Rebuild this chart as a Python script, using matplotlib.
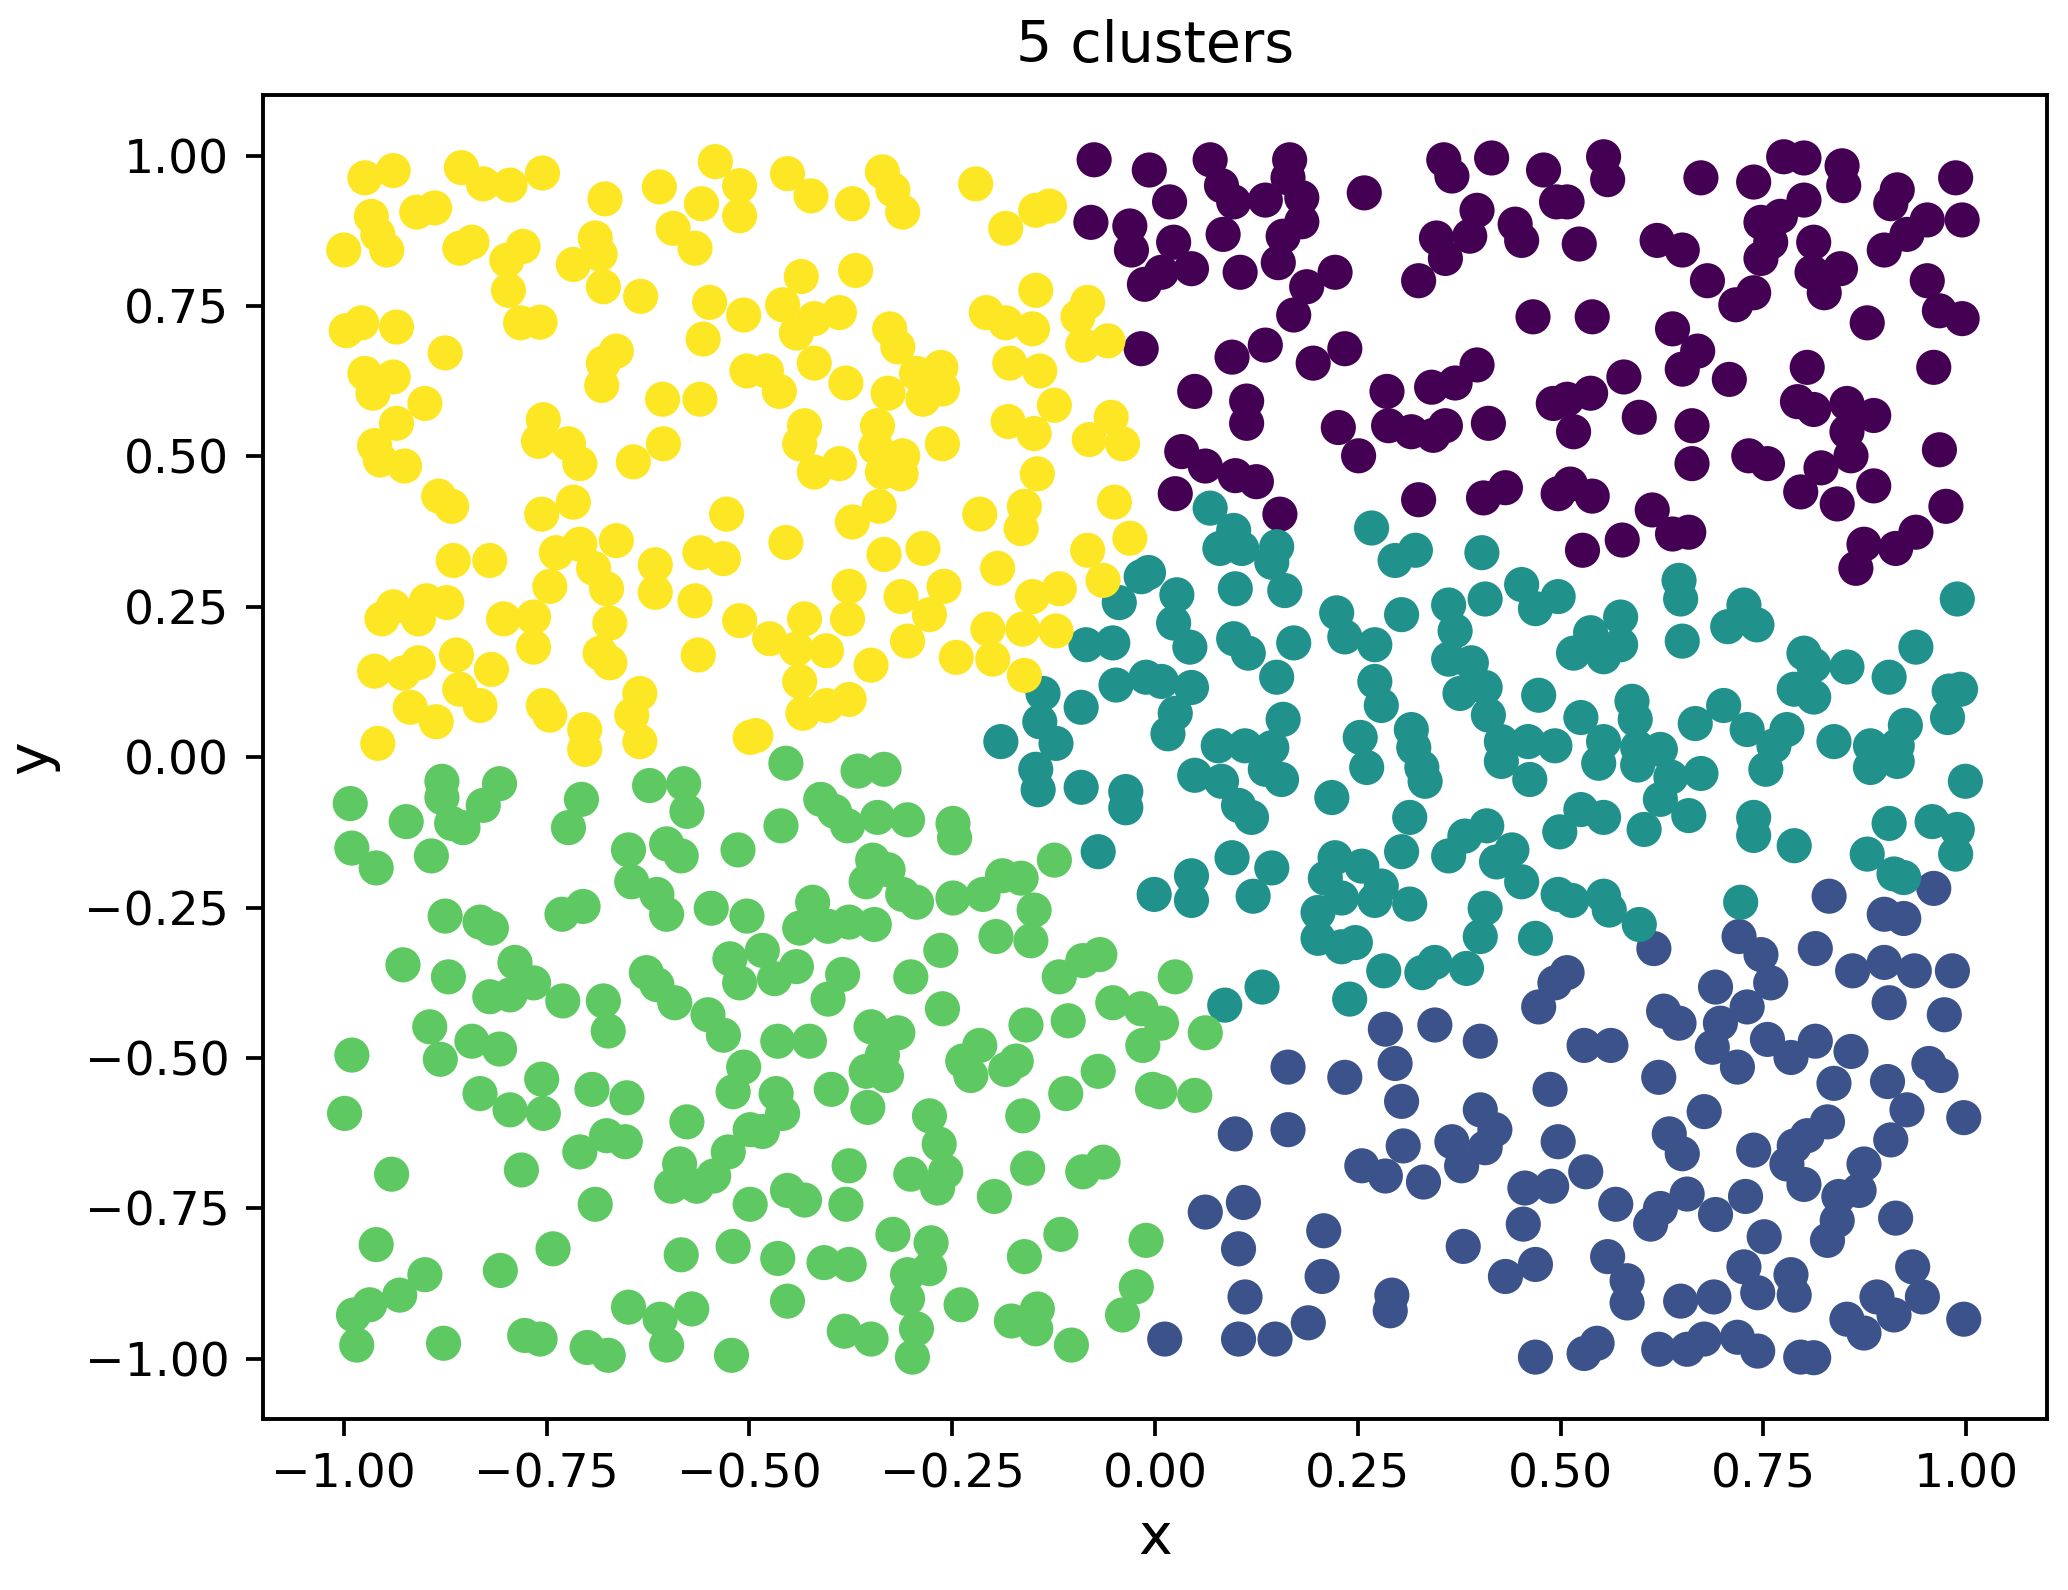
import numpy as np
import matplotlib
matplotlib.use("Agg")
import matplotlib.pyplot as plt

# --------------------------------------------------------------------------------
# DATA (cluster by cluster)

# cluster 4 - yellow, upper left
yellow_x = [-0.974, -0.939, -0.855, -0.828, -0.795, -0.755, -0.678, -0.611, -0.542, -0.512,
            -0.559, -0.512, -0.594, -0.567, -0.966, -0.910, -0.888, -1.000, -0.947, -0.958,
            -0.857, -0.842, -0.799, -0.779, -0.797, -0.782, -0.758, -0.717, -0.690, -0.684,
            -0.680, -0.634, -0.549, -0.557, -0.507, -0.503, -0.997, -0.978, -0.935, -0.875,
            -0.974, -0.939, -0.964, -0.900, -0.935, -0.962, -0.955, -0.925, -0.883, -0.867,
            -0.664, -0.682, -0.680, -0.607, -0.561, -0.754, -0.760, -0.723, -0.709, -0.643,
            -0.606, -0.756, -0.717, -0.528, -0.865, -0.820, -0.738, -0.709, -0.664, -0.692,
            -0.746, -0.676, -0.616, -0.616, -0.561, -0.532, -0.567, -0.512, -0.953, -0.939,
            -0.898, -0.873, -0.908, -0.803, -0.766, -0.766, -0.672, -0.684, -0.672, -0.563,
            -0.962, -0.927, -0.908, -0.861, -0.857, -0.832, -0.818, -0.918, -0.886, -0.754,
            -0.746, -0.703, -0.703, -0.635, -0.645, -0.635, -0.958, -0.499,
            -0.453, -0.424, -0.373, -0.336, -0.323, -0.311, -0.221, -0.184, -0.147, -0.130,
            -0.436, -0.369, -0.459, -0.442, -0.420, -0.389, -0.327, -0.317, -0.479, -0.463,
            -0.420, -0.381, -0.329, -0.294, -0.286, -0.264, -0.262, -0.432, -0.438, -0.420,
            -0.389, -0.342, -0.344, -0.336, -0.311, -0.313, -0.262, -0.208, -0.184, -0.147,
            -0.151, -0.179, -0.142, -0.095, -0.083, -0.089, -0.058, -0.124, -0.181, -0.149,
            -0.054, -0.081, -0.040, -0.145, -0.161, -0.165, -0.216, -0.050, -0.031, -0.083,
            -0.064, -0.373, -0.340, -0.455, -0.334, -0.286, -0.194, -0.377, -0.379, -0.432,
            -0.313, -0.260, -0.278, -0.305, -0.350, -0.475, -0.442, -0.405, -0.438, -0.434,
            -0.405, -0.377, -0.492, -0.245, -0.206, -0.200, -0.163, -0.151, -0.118, -0.122,
            -0.161]
yellow_y = [0.963, 0.975, 0.980, 0.953, 0.951, 0.971, 0.928, 0.948, 0.990, 0.950,
            0.920, 0.900, 0.879, 0.846, 0.899, 0.906, 0.913, 0.843, 0.843, 0.869,
            0.846, 0.856, 0.826, 0.849, 0.776, 0.722, 0.723, 0.819, 0.863, 0.836,
            0.782, 0.766, 0.756, 0.695, 0.735, 0.642, 0.709, 0.722, 0.715, 0.672,
            0.638, 0.632, 0.605, 0.588, 0.555, 0.518, 0.494, 0.484, 0.434, 0.417,
            0.675, 0.618, 0.655, 0.595, 0.595, 0.561, 0.525, 0.521, 0.488, 0.491,
            0.521, 0.404, 0.424, 0.404, 0.327, 0.327, 0.340, 0.354, 0.360, 0.314,
            0.284, 0.280, 0.320, 0.274, 0.340, 0.330, 0.260, 0.227, 0.230, 0.250,
            0.260, 0.257, 0.230, 0.230, 0.233, 0.183, 0.223, 0.173, 0.157, 0.170,
            0.143, 0.140, 0.157, 0.170, 0.113, 0.086, 0.146, 0.083, 0.059, 0.086,
            0.070, 0.046, 0.013, 0.106, 0.070, 0.026, 0.023, 0.033,
            0.970, 0.933, 0.920, 0.973, 0.943, 0.906, 0.953, 0.879, 0.909, 0.916,
            0.799, 0.809, 0.752, 0.705, 0.729, 0.739, 0.712, 0.682, 0.642, 0.608,
            0.655, 0.622, 0.605, 0.638, 0.595, 0.648, 0.612, 0.551, 0.521, 0.474,
            0.488, 0.551, 0.515, 0.474, 0.501, 0.471, 0.521, 0.739, 0.722, 0.776,
            0.712, 0.655, 0.642, 0.732, 0.756, 0.685, 0.692, 0.585, 0.558, 0.538,
            0.565, 0.528, 0.521, 0.471, 0.417, 0.380, 0.404, 0.424, 0.364, 0.344,
            0.294, 0.391, 0.417, 0.357, 0.337, 0.347, 0.314, 0.284, 0.230, 0.230,
            0.267, 0.284, 0.237, 0.193, 0.153, 0.197, 0.180, 0.177, 0.126, 0.073,
            0.086, 0.096, 0.036, 0.166, 0.213, 0.163, 0.213, 0.267, 0.280, 0.210,
            0.136]

# cluster 0 - purple, upper right
purple_x = [-0.075, -0.007, -0.079, -0.031, -0.029, -0.013, -0.017,
            0.018, 0.068, 0.082, 0.097, 0.084, 0.023, 0.008, 0.045, 0.105, 0.166,
            0.164, 0.136, 0.181, 0.181, 0.158, 0.152, 0.187, 0.171, 0.222, 0.258,
            0.356, 0.366, 0.415, 0.479, 0.495, 0.397, 0.388, 0.444, 0.452, 0.347,
            0.358, 0.325, 0.466, 0.095, 0.136, 0.195, 0.234, 0.049, 0.113, 0.113,
            0.226, 0.251, 0.286, 0.288, 0.316, 0.341, 0.370, 0.397, 0.343, 0.358,
            0.411, 0.491, 0.033, 0.062, 0.099, 0.125, 0.025, 0.154, 0.325, 0.405,
            0.432, 0.497,
            0.553, 0.558, 0.508, 0.523, 0.673, 0.738, 0.775, 0.800, 0.847, 0.849,
            0.800, 0.771, 0.747, 0.759, 0.747, 0.915, 0.907, 0.987, 0.995, 0.952,
            0.927, 0.899, 0.619, 0.650, 0.681, 0.716, 0.738, 0.812, 0.810, 0.845,
            0.825, 0.539, 0.638, 0.669, 0.650, 0.708, 0.578, 0.878, 0.952, 0.967,
            0.995, 0.960, 0.804, 0.792, 0.812, 0.853, 0.886, 0.853, 0.858, 0.821,
            0.796, 0.841, 0.886, 0.967, 0.975, 0.938, 0.913, 0.874, 0.864, 0.537,
            0.508, 0.516, 0.597, 0.662, 0.662, 0.732, 0.755, 0.512, 0.539, 0.613,
            0.576, 0.527, 0.638, 0.658]
purple_y = [0.993, 0.976, 0.889, 0.883, 0.843, 0.786, 0.679,
            0.923, 0.993, 0.950, 0.923, 0.869, 0.856, 0.806, 0.812, 0.806, 0.993,
            0.963, 0.926, 0.930, 0.890, 0.866, 0.822, 0.782, 0.735, 0.806, 0.938,
            0.993, 0.966, 0.996, 0.976, 0.923, 0.909, 0.866, 0.886, 0.859, 0.863,
            0.829, 0.792, 0.732, 0.665, 0.685, 0.655, 0.679, 0.608, 0.592, 0.555,
            0.548, 0.501, 0.608, 0.551, 0.541, 0.615, 0.622, 0.652, 0.535, 0.551,
            0.555, 0.588, 0.508, 0.484, 0.468, 0.458, 0.438, 0.404, 0.428, 0.431,
            0.448, 0.438,
            0.998, 0.960, 0.923, 0.853, 0.963, 0.956, 0.998, 0.996, 0.983, 0.950,
            0.926, 0.899, 0.889, 0.856, 0.829, 0.943, 0.920, 0.963, 0.893, 0.893,
            0.869, 0.843, 0.859, 0.843, 0.792, 0.752, 0.772, 0.856, 0.806, 0.812,
            0.772, 0.732, 0.712, 0.675, 0.645, 0.628, 0.632, 0.722, 0.792, 0.742,
            0.729, 0.648, 0.648, 0.591, 0.578, 0.588, 0.568, 0.541, 0.501, 0.481,
            0.441, 0.421, 0.451, 0.511, 0.417, 0.374, 0.347, 0.354, 0.314, 0.605,
            0.595, 0.541, 0.565, 0.551, 0.488, 0.501, 0.488, 0.454, 0.434, 0.411,
            0.361, 0.344, 0.371, 0.374]

# cluster 2 - teal, middle right
teal_x = [-0.017, -0.044, -0.085, -0.052, -0.048, -0.011, -0.091, -0.138, -0.142, -0.190,
          -0.122, -0.008,
          0.068, 0.097, 0.080, 0.107, 0.150, 0.144, 0.099, 0.160, 0.267, 0.296,
          0.321, 0.403, 0.027, 0.023, 0.043, 0.097, 0.115, 0.171, 0.150, 0.008,
          0.045, 0.025, 0.016, 0.158, 0.078, 0.111, 0.144, 0.224, 0.234, 0.271,
          0.304, 0.271, 0.279, 0.253, 0.316, 0.319, 0.362, 0.370, 0.362, 0.390,
          0.376, 0.407, 0.411, 0.407, 0.452, 0.469, 0.497, 0.473, 0.427, 0.460,
          0.493,
          0.646, 0.648, 0.574, 0.537, 0.516, 0.553, 0.574, 0.650, 0.726, 0.706,
          0.742, 0.989, 0.800, 0.812, 0.853, 0.905, 0.938, 0.979, 0.993, 0.977,
          0.588, 0.592, 0.525, 0.553, 0.595, 0.623, 0.666, 0.701, 0.730, 0.788,
          0.812, 0.779, 0.763, 0.837, 0.882, 0.925, 0.915,
          -0.147, -0.144, -0.091, -0.036, -0.036, -0.070, -0.001,
          0.049, 0.082, 0.136, 0.156, 0.103, 0.119, 0.218, 0.261, 0.329, 0.333,
          0.427, 0.462, 0.499, 0.314, 0.304, 0.362, 0.382, 0.409, 0.421, 0.440,
          0.452, 0.095, 0.045, 0.144, 0.121, 0.045, 0.222, 0.255, 0.210, 0.279,
          0.271, 0.314, 0.230, 0.201, 0.201, 0.230, 0.247, 0.282, 0.240, 0.407,
          0.401, 0.384, 0.345, 0.329, 0.469, 0.497, 0.132, 0.086,
          0.547, 0.595, 0.636, 0.673, 0.623, 0.658, 0.603, 0.525, 0.553, 0.753,
          0.738, 0.738, 0.788, 0.882, 0.915, 0.999, 0.905, 0.958, 0.989, 0.987,
          0.878, 0.911, 0.923, 0.514, 0.553, 0.560, 0.597, 0.722]
teal_y = [0.300, 0.257, 0.187, 0.190, 0.120, 0.133, 0.083, 0.106, 0.059, 0.026,
          0.023, 0.307,
          0.414, 0.377, 0.347, 0.347, 0.350, 0.324, 0.280, 0.277, 0.381, 0.327,
          0.344, 0.340, 0.270, 0.223, 0.183, 0.197, 0.173, 0.190, 0.133, 0.126,
          0.116, 0.073, 0.039, 0.063, 0.019, 0.019, 0.016, 0.240, 0.200, 0.187,
          0.237, 0.126, 0.086, 0.033, 0.046, 0.016, 0.253, 0.210, 0.163, 0.157,
          0.106, 0.116, 0.070, 0.263, 0.287, 0.247, 0.267, 0.103, 0.026, 0.026,
          0.019,
          0.294, 0.263, 0.233, 0.207, 0.173, 0.167, 0.187, 0.193, 0.253, 0.217,
          0.220, 0.263, 0.173, 0.153, 0.150, 0.133, 0.183, 0.110, 0.113, 0.066,
          0.093, 0.063, 0.066, 0.026, 0.016, 0.013, 0.056, 0.086, 0.046, 0.113,
          0.100, 0.046, 0.019, 0.026, 0.019, 0.053, 0.019,
          -0.020, -0.054, -0.050, -0.057, -0.084, -0.157, -0.228,
          -0.030, -0.040, -0.020, -0.037, -0.080, -0.100, -0.067, -0.017, -0.017, -0.040,
          -0.007, -0.037, -0.124, -0.100, -0.157, -0.164, -0.131, -0.114, -0.174, -0.154,
          -0.207, -0.167, -0.197, -0.184, -0.231, -0.238, -0.167, -0.181, -0.201, -0.214,
          -0.238, -0.244, -0.234, -0.258, -0.301, -0.315, -0.308, -0.355, -0.402, -0.251,
          -0.298, -0.351, -0.341, -0.358, -0.301, -0.228, -0.382, -0.412,
          -0.010, -0.013, -0.033, -0.027, -0.070, -0.097, -0.120, -0.087, -0.100, -0.020,
          -0.100, -0.130, -0.147, -0.017, -0.007, -0.040, -0.110, -0.107, -0.120, -0.161,
          -0.161, -0.194, -0.200, -0.238, -0.231, -0.254, -0.278, -0.241]

# cluster 3 - green, lower left
green_x = [-0.992, -0.990, -0.960, -0.923, -0.879, -0.879, -0.867, -0.853, -0.828, -0.808,
           -0.892, -0.707, -0.723, -0.623, -0.581, -0.577, -0.649, -0.602, -0.584, -0.645,
           -0.614, -0.602, -0.514, -0.547, -0.503, -0.875, -0.832, -0.818, -0.731, -0.705,
           -0.927, -0.871, -0.820, -0.795, -0.789, -0.766, -0.730, -0.680, -0.674, -0.627,
           -0.614, -0.592, -0.551, -0.532, -0.524, -0.512, -0.990, -0.894, -0.881, -0.842,
           -0.808, -0.999, -0.832, -0.795, -0.756, -0.754, -0.694, -0.651, -0.577, -0.520,
           -0.507, -0.499, -0.709, -0.676, -0.653, -0.941, -0.781, -0.586, -0.596, -0.565,
           -0.544, -0.526, -0.499, -0.690, -0.960, -0.807, -0.742, -0.584, -0.520, -0.900,
           -0.931, -0.968, -0.988, -0.984, -0.877, -0.777, -0.758, -0.700, -0.674, -0.649,
           -0.610, -0.602, -0.571, -0.522,
           -0.455, -0.366, -0.334, -0.412, -0.395, -0.379, -0.342, -0.305, -0.461, -0.249,
           -0.247, -0.348, -0.329, -0.356, -0.311, -0.294, -0.249, -0.212, -0.188, -0.165,
           -0.149, -0.196, -0.153, -0.124, -0.422, -0.438, -0.403, -0.377, -0.346, -0.484,
           -0.469, -0.442, -0.385, -0.403, -0.264, -0.301, -0.262, -0.118, -0.089, -0.068,
           -0.465, -0.426, -0.350, -0.317, -0.336, -0.356, -0.331, -0.399, -0.354, -0.467,
           -0.459, -0.484, -0.237, -0.216, -0.227, -0.184, -0.171, -0.159, -0.107, -0.052,
           -0.017, -0.015, -0.070, -0.110, -0.003, -0.163, -0.278, -0.266, -0.301, -0.268,
           -0.258, -0.377, -0.381, -0.453, -0.432, -0.198, -0.157, -0.089, -0.064, -0.323,
           -0.276, -0.278, -0.305, -0.305, -0.465, -0.408, -0.377, -0.453, -0.383, -0.350,
           -0.294, -0.299, -0.239, -0.161, -0.116, -0.177, -0.145, -0.147, -0.103, -0.011,
           -0.023, -0.040,
           0.025, 0.008, 0.062, 0.006, 0.049]
green_y = [-0.077, -0.151, -0.184, -0.107, -0.040, -0.067, -0.110, -0.117, -0.080, -0.044,
           -0.164, -0.070, -0.117, -0.047, -0.044, -0.090, -0.154, -0.144, -0.164, -0.207,
           -0.228, -0.261, -0.154, -0.251, -0.264, -0.264, -0.274, -0.284, -0.261, -0.248,
           -0.345, -0.365, -0.398, -0.395, -0.341, -0.375, -0.405, -0.405, -0.455, -0.358,
           -0.378, -0.408, -0.428, -0.462, -0.335, -0.375, -0.495, -0.448, -0.502, -0.472,
           -0.485, -0.592, -0.559, -0.586, -0.535, -0.592, -0.552, -0.566, -0.606, -0.556,
           -0.515, -0.619, -0.656, -0.629, -0.639, -0.693, -0.686, -0.676, -0.713, -0.713,
           -0.696, -0.656, -0.743, -0.743, -0.810, -0.853, -0.817, -0.827, -0.813, -0.860,
           -0.894, -0.910, -0.927, -0.977, -0.974, -0.961, -0.967, -0.981, -0.994, -0.914,
           -0.934, -0.977, -0.917, -0.994,
           -0.010, -0.023, -0.020, -0.070, -0.090, -0.114, -0.100, -0.104, -0.114, -0.110,
           -0.134, -0.171, -0.187, -0.207, -0.228, -0.241, -0.234, -0.228, -0.197, -0.201,
           -0.254, -0.298, -0.305, -0.171, -0.241, -0.284, -0.281, -0.274, -0.278, -0.321,
           -0.368, -0.348, -0.361, -0.402, -0.321, -0.365, -0.418, -0.365, -0.338, -0.328,
           -0.472, -0.472, -0.448, -0.458, -0.495, -0.522, -0.529, -0.552, -0.582, -0.559,
           -0.592, -0.622, -0.505, -0.479, -0.529, -0.519, -0.505, -0.445, -0.438, -0.408,
           -0.418, -0.479, -0.522, -0.559, -0.552, -0.596, -0.596, -0.643, -0.693, -0.716,
           -0.689, -0.679, -0.743, -0.720, -0.736, -0.730, -0.683, -0.689, -0.673, -0.793,
           -0.807, -0.850, -0.860, -0.900, -0.833, -0.840, -0.843, -0.904, -0.954, -0.967,
           -0.950, -0.997, -0.910, -0.830, -0.793, -0.937, -0.917, -0.950, -0.977, -0.803,
           -0.880, -0.927,
           -0.365, -0.442, -0.458, -0.556, -0.562]

# cluster 1 - blue, lower right
blue_x = [0.284, 0.345, 0.401, 0.473, 0.493, 0.164, 0.234, 0.296, 0.304, 0.487,
          0.099, 0.164, 0.255, 0.284, 0.306, 0.331, 0.366, 0.378, 0.401, 0.419,
          0.407, 0.497, 0.456, 0.489, 0.454, 0.432, 0.469, 0.380, 0.469, 0.062,
          0.109, 0.103, 0.208, 0.206, 0.111, 0.292, 0.290, 0.012, 0.103, 0.148,
          0.189,
          0.615, 0.508, 0.720, 0.747, 0.759, 0.691, 0.730, 0.627, 0.646, 0.697,
          0.687, 0.718, 0.755, 0.784, 0.814, 0.858, 0.831, 0.814, 0.960, 0.899,
          0.923, 0.860, 0.899, 0.936, 0.983, 0.905, 0.973, 0.529, 0.562, 0.621,
          0.837, 0.903, 0.954, 0.969, 0.677, 0.927, 0.997, 0.634, 0.650, 0.738,
          0.531, 0.829, 0.804, 0.788, 0.779, 0.800, 0.907, 0.874, 0.868, 0.843,
          0.841, 0.829, 0.913, 0.568, 0.611, 0.623, 0.656, 0.691, 0.728, 0.751,
          0.558, 0.582, 0.582, 0.648, 0.689, 0.726, 0.743, 0.784, 0.788, 0.853,
          0.874, 0.890, 0.911, 0.934, 0.946, 0.997, 0.529, 0.545, 0.621, 0.656,
          0.677, 0.718, 0.743, 0.796, 0.812]
blue_y = [-0.452, -0.445, -0.472, -0.415, -0.375, -0.515, -0.532, -0.509, -0.572, -0.552,
          -0.626, -0.619, -0.679, -0.696, -0.646, -0.706, -0.639, -0.679, -0.586, -0.619,
          -0.649, -0.639, -0.716, -0.713, -0.776, -0.863, -0.843, -0.813, -0.997, -0.756,
          -0.740, -0.817, -0.787, -0.863, -0.897, -0.894, -0.920, -0.967, -0.967, -0.967,
          -0.940,
          -0.318, -0.358, -0.298, -0.328, -0.375, -0.382, -0.415, -0.422, -0.442, -0.442,
          -0.482, -0.515, -0.469, -0.499, -0.472, -0.489, -0.231, -0.318, -0.218, -0.261,
          -0.268, -0.355, -0.341, -0.355, -0.355, -0.408, -0.428, -0.479, -0.479, -0.532,
          -0.542, -0.539, -0.509, -0.529, -0.589, -0.586, -0.599, -0.626, -0.659, -0.653,
          -0.689, -0.606, -0.629, -0.646, -0.676, -0.710, -0.636, -0.676, -0.720, -0.730,
          -0.770, -0.803, -0.766, -0.743, -0.776, -0.750, -0.726, -0.760, -0.730, -0.797,
          -0.830, -0.870, -0.907, -0.904, -0.897, -0.847, -0.890, -0.860, -0.894, -0.934,
          -0.957, -0.897, -0.927, -0.847, -0.897, -0.934, -0.991, -0.974, -0.984, -0.984,
          -0.967, -0.964, -0.987, -0.997, -0.998]

# --------------------------------------------------------------------------------
# PLOT

xs = [purple_x, blue_x, teal_x, green_x, yellow_x]
ys = [purple_y, blue_y, teal_y, green_y, yellow_y]
x = np.concatenate([np.array(v) for v in xs])
y = np.concatenate([np.array(v) for v in ys])
labels = np.concatenate([np.full(len(v), k) for k, v in enumerate(xs)])

fig = plt.figure(figsize=(20.68, 15.9), dpi=100)
ax = fig.add_axes([0.127, 0.1075, 0.863, 0.8325])
ax.scatter(x, y, c=labels, cmap="viridis", vmin=0, vmax=4, s=640, linewidths=0)

ax.set_xlim(-1.1, 1.1)
ax.set_ylim(-1.1, 1.1)
ticks = [-1.0, -0.75, -0.5, -0.25, 0.0, 0.25, 0.5, 0.75, 1.0]
ax.set_xticks(ticks)
ax.set_yticks(ticks)
ax.set_xticklabels(["%.2f" % t if t >= 0 else "\u2212%.2f" % -t for t in ticks])
ax.set_yticklabels(["%.2f" % t if t >= 0 else "\u2212%.2f" % -t for t in ticks])
ax.tick_params(labelsize=34, length=12, width=2.7, pad=12)
for sp in ax.spines.values():
    sp.set_linewidth(2.8)

ax.set_title("5 clusters", fontsize=41, pad=24)
ax.set_xlabel("x", fontsize=41, labelpad=10)
ax.set_ylabel("y", fontsize=41, labelpad=18)

fig.savefig("out.png", dpi=100)
